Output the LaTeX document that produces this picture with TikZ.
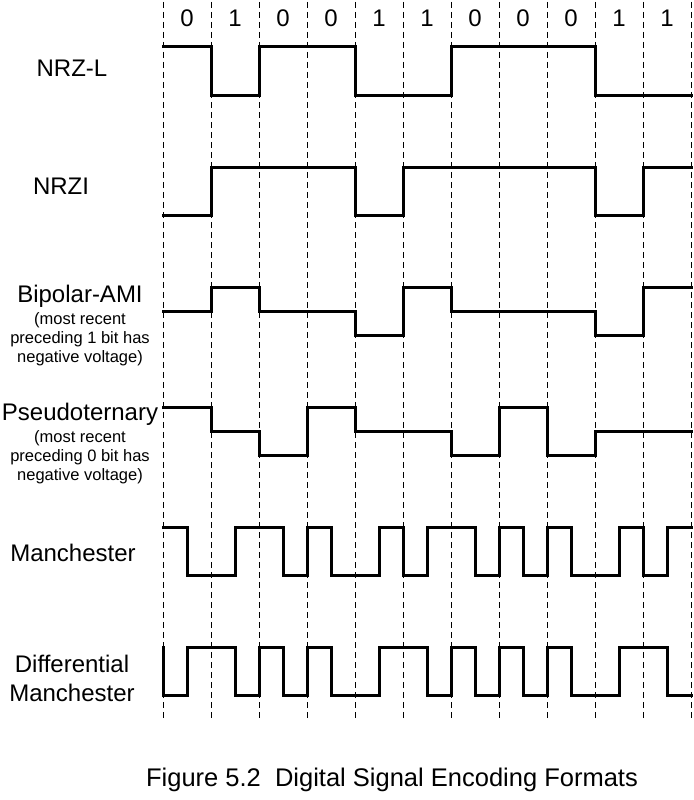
\documentclass[tikz,border=0pt]{standalone}
\usepackage{fontspec}
\setmainfont{Liberation Sans}
\usepackage{tikz}
\tikzset{sig/.style={line width=3pt,line cap=rect},
         grid/.style={line width=1pt,dash pattern=on 6pt off 4pt},
         lbl/.style={font=\fontsize{24}{26}\selectfont,inner sep=0pt},
         note/.style={font=\fontsize{16.5}{19}\selectfont,inner sep=0pt,align=center}}
\begin{document}
\begin{tikzpicture}[x=1pt,y=-1pt]
                \useasboundingbox (0,0) rectangle (693,800);
                \foreach \k in {0,...,11}
                    \draw [grid] (163+48*\k,2) -- (163+48*\k,720);
                \foreach \b [count=\i from 0] in {0,1,0,0,1,1,0,0,0,1,1}
                    \node[lbl] (bit\i) at (187+48*\i,18) {\b};
                \draw [sig] (163,47) -|(211,95) -|(259,47) -|(355,95) -|(451,47) -|(595,95) -- (691,95);
                \draw [sig] (163,215) -|(211,167) -|(355,215) -|(403,167) -|(595,215) -|(643,167) -- (691,167);
                \draw [sig] (163,311) -|(211,287) -|(259,311) -|(355,335) -|(403,287) -|(451,311) -|(595,335) -|(643,287) -- (691,287);
                \draw [sig] (163,407) -|(211,431) -|(259,455) -|(307,407) -|(355,431) -|(451,455) -|(499,407) -|(547,455) -|(595,431) -- (691,431);
                \draw [sig] (163,527) -|(187,575) -|(235,527) -|(283,575) -|(307,527) -|(331,575) -|(379,527) -|(403,575) -|(427,527) -|(475,575) -|(499,527) -|(523,575) -|(547,527) -|(571,575) -|(619,527) -|(643,575) -|(667,527) -- (691,527);
                \draw [sig] (163,647) -- (163,695) -|(187,647) -|(235,695) -|(259,647) -|(283,695) -|(307,647) -|(331,695) -|(379,647) -|(427,695) -|(451,647) -|(475,695) -|(499,647) -|(523,695) -|(547,647) -|(571,695) -|(619,647) -|(667,695) -- (691,695);
                \node[lbl] (nrzl) at (72,68) {NRZ-L};
                \node[lbl] (nrzi) at (61,186) {NRZI};
                \node[lbl] (ami) at (80,296) {Bipolar-AMI};
                \node[note,below=5pt] (aminote) at (ami.south) {(most recent\\preceding 1 bit has\\negative voltage)};
                \node[lbl] (pseudo) at (80,414) {Pseudoternary};
                \node[note,below=5pt] (pseudonote) at (pseudo.south) {(most recent\\preceding 0 bit has\\negative voltage)};
                \node[lbl] (manch) at (73,553) {Manchester};
                \node[lbl,align=center,font=\fontsize{24}{29}\selectfont] (diff) at (72,678) {Differential\\Manchester};
                \node[lbl,font=\fontsize{25.5}{28}\selectfont] (title) at (392,780) {Figure 5.2\ \ Digital Signal Encoding Formats};
            \end{tikzpicture}
\end{document}
